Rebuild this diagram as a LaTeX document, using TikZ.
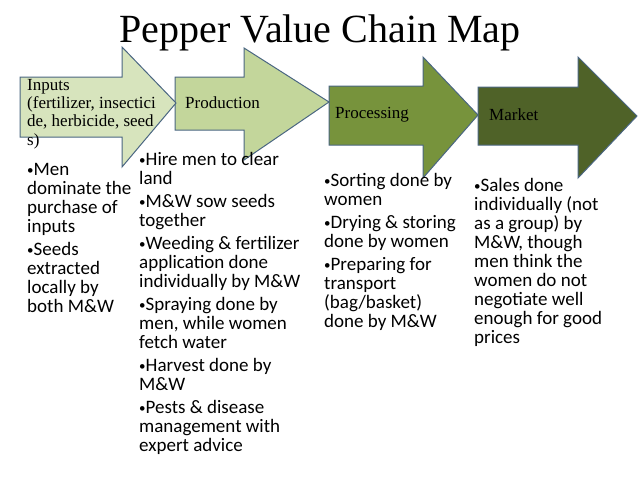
\documentclass[tikz,border=0pt]{standalone}
\usepackage{fontspec}
\setmainfont{Liberation Serif}
\newfontfamily\bodyf{Carlito}
\newcommand{\bl}{{\fontsize{13}{13}\selectfont\raisebox{1pt}{•}}}
\begin{document}
\begin{tikzpicture}[x=1pt,y=-1pt,
  arr/.style={line width=1pt},
  lab/.style={font=\fontsize{17}{18.3}\selectfont,inner sep=0pt,anchor=west},
  col/.style={font=\bodyf\fontsize{19}{19}\selectfont,inner sep=0pt,anchor=north west,align=left}]
\definecolor{c1}{HTML}{D7E4BD}\definecolor{c2}{HTML}{C3D69B}
\definecolor{c3}{HTML}{77933C}\definecolor{c4}{HTML}{4F6228}
\definecolor{bd}{HTML}{4A6682}
\useasboundingbox (0,0) rectangle (638,479);
\fill[white] (0,0) rectangle (638,479);
\node[font=\fontsize{40}{44}\selectfont] (title) at (320,33) {Pepper Value Chain Map};
\draw[arr,draw=bd,fill=c4] (478,87) -- (578,87) -- (578,57) -- (637,116) -- (578,178) -- (578,145) -- (478,145) -- cycle;
\draw[arr,draw=bd,fill=c3] (329,86) -- (423,86) -- (423,57) -- (478,115) -- (423,178) -- (423,145) -- (329,145) -- cycle;
\draw[arr,draw=bd,fill=c2] (175,77) -- (244,77) -- (244,48) -- (329,102) -- (244,160) -- (244,130) -- (175,130) -- cycle;
\draw[arr,draw=bd,fill=c1] (20,77) -- (122,77) -- (122,47) -- (176,103) -- (122,167) -- (122,137) -- (20,137) -- cycle;
\node[lab,anchor=north west,align=left] (inp) at (27,79) {Inputs\\(fertilizer, insectici\\de, herbicide, seed\\s)};
\node[lab] (prod) at (185,103) {Production};
\node[lab] (proc) at (335,115) {Processing};
\node[lab] (mkt) at (489,115) {Market};
\node[col] (c1t) at (27,163) {\bl Men\\dominate the\\purchase of\\inputs\\[4pt]\bl Seeds\\extracted\\locally by\\both M\&W};
\node[col] (c2t) at (139,152) {\bl Hire men to clear\\land\\[4pt]\bl M\&W sow seeds\\together\\[4pt]\bl Weeding \& fertilizer\\application done\\individually by M\&W\\[4pt]\bl Spraying done by\\men, while women\\fetch water\\[4pt]\bl Harvest done by\\M\&W\\[4pt]\bl Pests \& disease\\management with\\expert advice};
\node[col] (c3t) at (324,173) {\bl Sorting done by\\women\\[4pt]\bl Drying \& storing\\done by women\\[4pt]\bl Preparing for\\transport\\(bag/basket)\\done by M\&W};
\node[col] (c4t) at (474,178) {\bl Sales done\\individually (not\\as a group) by\\M\&W, though\\men think the\\women do not\\negotiate well\\enough for good\\prices};
\end{tikzpicture}
\end{document}
